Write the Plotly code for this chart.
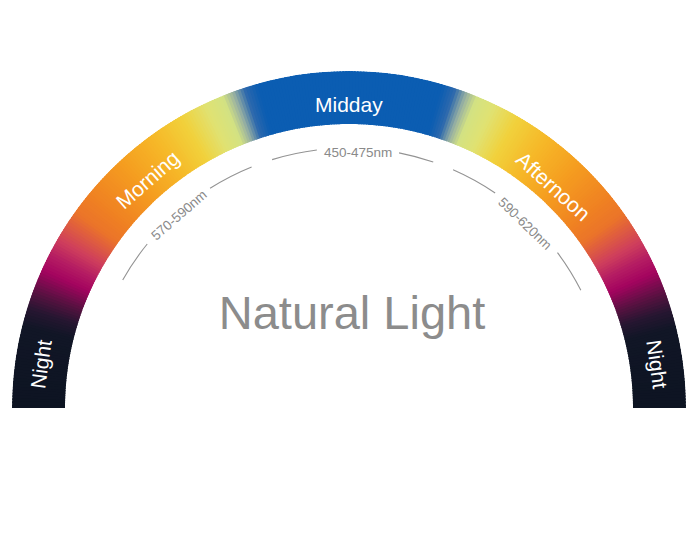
import numpy as np
import plotly.graph_objects as go

# ---- data -------------------------------------------------------------
# colour stops along the arc (degrees: 180 = left end, 90 = top), mirrored to the right side
stop_angles = [180, 166, 163, 160, 156, 153, 150, 144.5, 141, 133, 126, 120, 115.5, 112.3, 110.3, 108.2, 106]
stop_colors = ["#0d1422", "#111626", "#261631", "#561240", "#a3045f", "#b51d63", "#cf3f5c",
               "#eb7429", "#ef8022", "#f59d20", "#f6b828", "#f1d13c", "#e0e272", "#d3e282",
               "#97b0a2", "#2c68ad", "#0b5db2"]

period_labels = ["Night", "Morning", "Midday", "Afternoon", "Night"]
period_angles = [172, 131.4, 90, 47.3, 8]
period_radii = [311, 304, 304, 302, 311]
period_rot = [-82, -41, 0, 42, 82]

wave_labels = ["570-590nm", "450-475nm", "590-620nm"]
wave_angles = [131.5, 88.0, 46.4]
wave_radii = [257, 256, 255]
wave_rot = [-41, 0, 44]

guide_start = [150.5, 122.3, 107.2, 78.9, 66.4, 36.7]
guide_end = [140.9, 112.0, 97.1, 71.1, 55.8, 26.9]

title = "Natural Light"

# ---- geometry / style ---------------------------------------------------
R_OUT, R_IN, R_GUIDE = 337, 284, 260
W, H = 700, 541
dom_x = [12 / W, 686 / W]
dom_y = [133 / H, 470 / H]
FONT = "Liberation Sans, Arial, sans-serif"

# colourscale from the stops (mirrored)
cs = {}
for a, c in zip(stop_angles, stop_colors):
    cs[a / 180] = c
    cs[(180 - a) / 180] = c
colorscale = [[k, cs[k]] for k in sorted(cs)]

# thin wedges that render the gradient band
step = 0.5
centers = np.arange(step / 2, 180, step)
widths = np.full(len(centers), step * 1.6)
widths[0] = widths[-1] = step

fig = go.Figure()
fig.add_trace(go.Barpolar(
    theta=centers, r=np.full(len(centers), R_OUT - R_IN), base=R_IN, width=widths,
    marker=dict(color=centers, colorscale=colorscale, cmin=0, cmax=180,
                line=dict(width=0)),
    hoverinfo="skip", showlegend=False))

# guide arcs (thin gray bands)
g_mid = [(s + e) / 2 for s, e in zip(guide_start, guide_end)]
g_w = [abs(s - e) for s, e in zip(guide_start, guide_end)]
fig.add_trace(go.Barpolar(
    theta=g_mid, width=g_w, r=[1.1] * len(g_mid), base=R_GUIDE - 0.55,
    marker=dict(color="#939393", line=dict(width=0)),
    hoverinfo="skip", showlegend=False))

# title as text trace on overlay cartesian axes
fig.add_trace(go.Scatter(x=[3], y=[91], mode="text", text=[title],
                         textfont=dict(family=FONT, size=47, color="#8c8c8c"),
                         hoverinfo="skip", showlegend=False))

annotations = []
for lab, a, r, rot in zip(period_labels, period_angles, period_radii, period_rot):
    t = np.deg2rad(a)
    annotations.append(dict(x=r * np.cos(t), y=r * np.sin(t), xref="x", yref="y",
                            text=lab, showarrow=False, textangle=rot,
                            font=dict(family=FONT, size=21, color="white"),
                            xanchor="center", yanchor="middle"))
for lab, a, r, rot in zip(wave_labels, wave_angles, wave_radii, wave_rot):
    t = np.deg2rad(a)
    annotations.append(dict(x=r * np.cos(t), y=r * np.sin(t), xref="x", yref="y",
                            text=lab, showarrow=False, textangle=rot,
                            font=dict(family=FONT, size=13.5, color="#8a8a8a"),
                            xanchor="center", yanchor="middle"))

fig.update_layout(
    width=W, height=H, margin=dict(l=0, r=0, t=0, b=0),
    paper_bgcolor="white", plot_bgcolor="rgba(0,0,0,0)",
    polar=dict(domain=dict(x=dom_x, y=dom_y), sector=[0, 180], bgcolor="rgba(0,0,0,0)",
               bargap=0,
               radialaxis=dict(range=[0, R_OUT], visible=False, showgrid=False),
               angularaxis=dict(visible=False, showgrid=False, direction="counterclockwise",
                                rotation=0)),
    xaxis=dict(domain=dom_x, range=[-R_OUT, R_OUT], visible=False, fixedrange=True),
    yaxis=dict(domain=dom_y, range=[0, R_OUT], visible=False, fixedrange=True),
    annotations=annotations, showlegend=False)

fig.write_html("out.html", config={"displayModeBar": False},
               post_script="document.body.style.margin='0';")
